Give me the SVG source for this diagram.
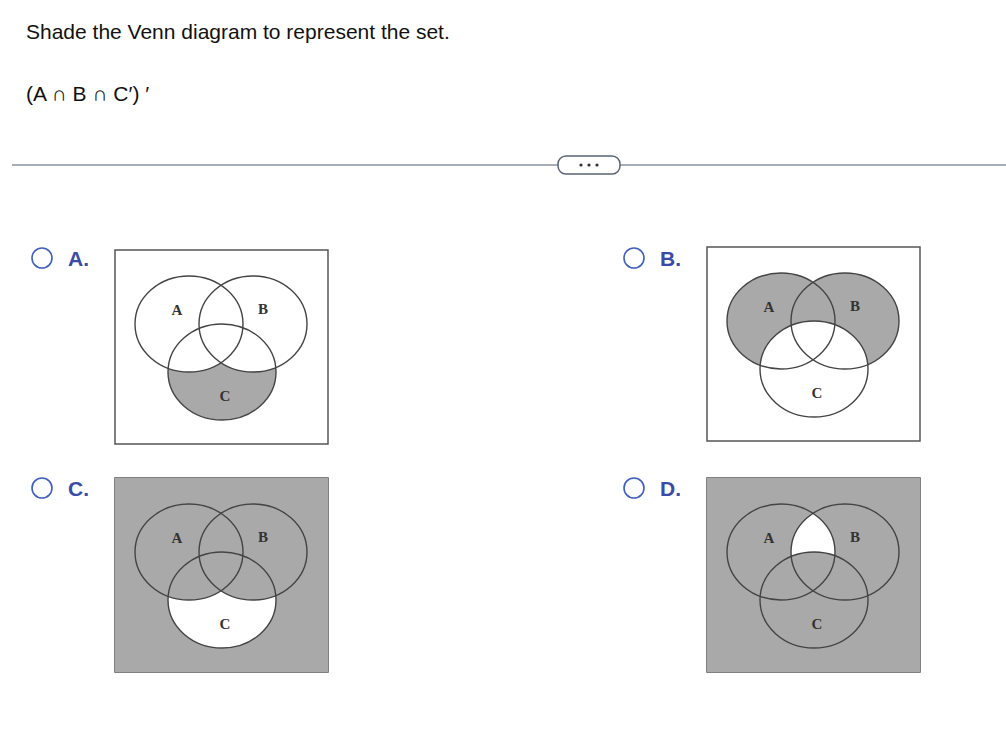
<svg xmlns="http://www.w3.org/2000/svg" width="1006" height="754" viewBox="0 0 1006 754">
<style>
.t{font-family:"Liberation Sans",Arial,sans-serif;fill:#111}
.opt{font-family:"Liberation Sans",Arial,sans-serif;font-size:21px;fill:#3a4aa8;font-weight:bold}
.rb{fill:#fff;stroke:#3f5fbf;stroke-width:1.6}
.box{fill:#fff;stroke:#555;stroke-width:1.5}
.c{fill:none;stroke:#444;stroke-width:1.4}
.lb{font-family:"Liberation Serif",serif;font-size:15px;fill:#333;text-anchor:middle;font-weight:bold}
.g{fill:#a9a9a9}
</style>
<defs>
<ellipse id="ca" cx="74" cy="74" rx="54" ry="48"/>
<ellipse id="cb" cx="138" cy="74" rx="54" ry="48"/>
<ellipse id="cc" cx="107" cy="122" rx="54" ry="48"/>
<mask id="mA"><use href="#cc" fill="#fff"/><use href="#ca" fill="#000"/><use href="#cb" fill="#000"/></mask>
<mask id="mB"><use href="#ca" fill="#fff"/><use href="#cb" fill="#fff"/><use href="#cc" fill="#000"/></mask>
<mask id="mC"><rect width="213" height="194" fill="#fff"/><use href="#cc" fill="#000"/><use href="#ca" fill="#fff"/><use href="#cb" fill="#fff"/></mask>
<clipPath id="clA"><use href="#ca"/></clipPath>
<mask id="mD"><rect width="213" height="194" fill="#fff"/><g clip-path="url(#clA)"><use href="#cb" fill="#000"/></g><use href="#cc" fill="#fff"/></mask>
<g id="circ"><use href="#ca" class="c"/><use href="#cb" class="c"/><use href="#cc" class="c"/>
<text class="lb" x="62" y="65">A</text><text class="lb" x="148" y="64">B</text><text class="lb" x="110" y="151">C</text></g>
</defs>
<text class="t" x="26" y="39" font-size="21">Shade the Venn diagram to represent the set.</text>
<text class="t" x="26" y="101" font-size="21">(A ∩ B ∩ C′) ′</text>
<g id="divider"><line x1="12" y1="165" x2="1006" y2="165" stroke="#8a93a3" stroke-width="1.5"/>
<rect x="558" y="156" width="62" height="18" rx="8" fill="#fff" stroke="#5a6374" stroke-width="1.5"/>
<circle cx="581" cy="165" r="1.6" fill="#333"/><circle cx="589" cy="165" r="1.6" fill="#333"/><circle cx="597" cy="165" r="1.6" fill="#333"/></g>
<g id="optA"><circle class="rb" cx="42" cy="258" r="10"/><text class="opt" x="68" y="266">A.</text>
<g transform="translate(115,250)"><rect class="box" width="213" height="194"/><rect class="g" width="213" height="194" mask="url(#mA)"/><use href="#circ"/></g></g>
<g id="optB"><circle class="rb" cx="634" cy="258" r="10"/><text class="opt" x="660" y="266">B.</text>
<g transform="translate(707,247)"><rect class="box" width="213" height="194"/><rect class="g" width="213" height="194" mask="url(#mB)"/><use href="#circ"/></g></g>
<g id="optC"><circle class="rb" cx="42" cy="488" r="10"/><text class="opt" x="68" y="496">C.</text>
<g transform="translate(115,478)"><rect class="box" width="213" height="194"/><rect class="g" width="213" height="194" mask="url(#mC)"/><use href="#circ"/></g></g>
<g id="optD"><circle class="rb" cx="634" cy="488" r="10"/><text class="opt" x="660" y="496">D.</text>
<g transform="translate(707,478)"><rect class="box" width="213" height="194"/><rect class="g" width="213" height="194" mask="url(#mD)"/><use href="#circ"/></g></g>
</svg>
